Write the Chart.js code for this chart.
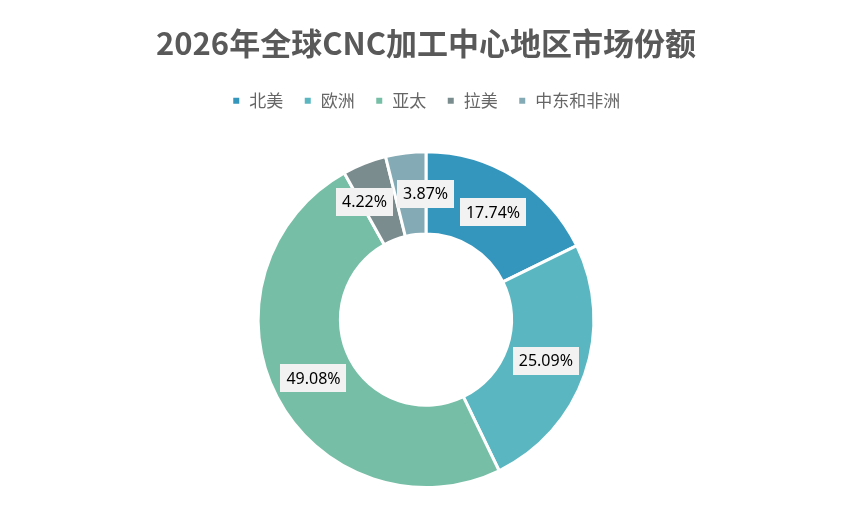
<!DOCTYPE html>
<html>
<head>
<meta charset="utf-8">
<script src="https://cdn.jsdelivr.net/npm/chart.js@4"></script>
<style>
html,body{margin:0;padding:0;background:#fff;}
#wrap{width:859px;height:505px;}
</style>
</head>
<body>
<div id="wrap"><canvas id="c" width="859" height="505"></canvas></div>
<script>
const titleText = '2026年全球CNC加工中心地区市场份额';
const categories = ['北美', '欧洲', '亚太', '拉美', '中东和非洲'];
const shares = [17.74, 25.09, 49.08, 4.22, 3.87];
const colors = ['#3596BD', '#5AB7C1', '#76BEA6', '#7B8C8E', '#84ABB5'];

const legendSpacer = {
  id: 'legendSpacer',
  beforeInit(chart) {
    const orig = chart.legend.fit;
    chart.legend.fit = function () {
      orig.bind(chart.legend)();
      this.height += 31;
    };
  }
};

const labelPlugin = {
  id: 'sliceLabels',
  afterDatasetsDraw(chart) {
    const ctx = chart.ctx;
    const meta = chart.getDatasetMeta(0);
    ctx.save();
    ctx.font = '16px "Noto Sans", "DejaVu Sans", sans-serif';
    ctx.textAlign = 'center';
    ctx.textBaseline = 'middle';
    const boxes = meta.data.map((arc, i) => {
      const p = arc.getProps(['x','y','startAngle','endAngle','innerRadius','outerRadius'], true);
      const mid = (p.startAngle + p.endAngle) / 2;
      const r = (p.innerRadius + p.outerRadius) / 2;
      const text = shares[i].toFixed(2) + '%';
      const w = ctx.measureText(text).width + 12;
      const h = 28;
      return {x: p.x + Math.cos(mid) * r, y: p.y + Math.sin(mid) * r, w, h, text};
    });
    for (let iter = 0; iter < 5; iter++) {
      for (let a = 0; a < boxes.length; a++) {
        for (let b = a + 1; b < boxes.length; b++) {
          const A = boxes[a], B = boxes[b];
          const ox = (A.w + B.w) / 2 + 4 - Math.abs(A.x - B.x);
          const oy = (A.h + B.h) / 2 - Math.abs(A.y - B.y);
          if (ox > 0 && oy > 0) {
            const dir = A.x < B.x ? -1 : 1;
            A.x += dir * ox / 2;
            B.x -= dir * ox / 2;
          }
        }
      }
    }
    boxes.forEach(b => {
      ctx.fillStyle = '#F2F2F2';
      ctx.fillRect(Math.round(b.x - b.w / 2), Math.round(b.y - b.h / 2), Math.round(b.w), b.h);
      ctx.fillStyle = '#000000';
      ctx.fillText(b.text, b.x, b.y + 1);
    });
    ctx.restore();
  }
};

new Chart(document.getElementById('c'), {
  type: 'doughnut',
  data: {
    labels: categories,
    datasets: [{
      data: shares,
      backgroundColor: colors,
      borderColor: '#FFFFFF',
      borderWidth: 3,
      hoverOffset: 0
    }]
  },
  options: {
    responsive: false,
    animation: false,
    cutout: '51%',
    layout: { padding: { top: 0, bottom: 16, left: 0, right: 7 } },
    plugins: {
      title: {
        display: true,
        text: titleText,
        color: '#595959',
        font: { family: '"Noto Sans CJK SC", "Noto Sans", sans-serif', size: 31, weight: 'bold' },
        padding: { top: 25, bottom: 10 }
      },
      legend: {
        display: true,
        position: 'top',
        labels: {
          color: '#666666',
          font: { family: '"Noto Sans CJK SC", "Noto Sans", sans-serif', size: 17 },
          boxWidth: 9,
          boxHeight: 9,
          padding: 20
        }
      },
      tooltip: { enabled: false }
    }
  },
  plugins: [legendSpacer, labelPlugin]
});
</script>
</body>
</html>
